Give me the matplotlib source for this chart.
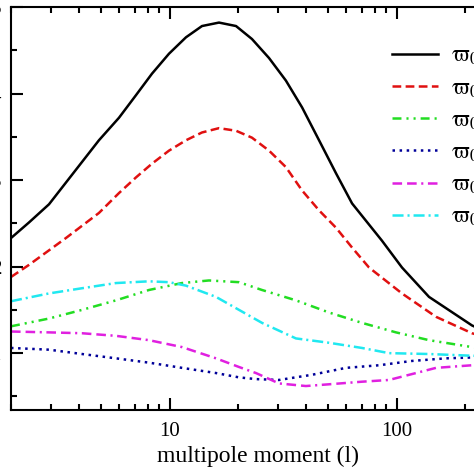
import matplotlib
matplotlib.use('Agg')
import matplotlib.pyplot as plt
from matplotlib.ticker import LogLocator, NullFormatter, MultipleLocator

plt.rcParams['font.family'] = ['Liberation Serif', 'DejaVu Serif']
plt.rcParams['mathtext.fontset'] = 'stix'

# ---- data ----
black_l = [2.0, 2.40, 2.94, 4.88, 5.98, 7.10, 8.36, 9.93, 11.8, 13.88, 16.49, 19.6, 23.04, 27.4,
           32.5, 38.3, 45.5, 54.0, 63.6, 86.1, 105.5, 138.8, 214.7, 300]
black_v = [2.33, 2.51, 2.72, 3.46, 3.72, 3.98, 4.23, 4.46, 4.65, 4.78, 4.82, 4.78, 4.63, 4.41,
           4.15, 3.84, 3.46, 3.08, 2.73, 2.30, 1.99, 1.65, 1.32, 1.15]

red_l = [2.0, 2.40, 3.49, 4.88, 5.98, 7.10, 8.36, 9.93, 11.8, 13.88, 16.49, 19.6, 23.04, 27.4,
         32.5, 38.3, 45.5, 54.0, 63.6, 75.5, 105.5, 149.0, 214.7, 300]
red_v = [1.88, 2.02, 2.33, 2.62, 2.85, 3.03, 3.19, 3.34, 3.46, 3.55, 3.60, 3.57, 3.49, 3.34,
         3.15, 2.88, 2.65, 2.45, 2.22, 1.99, 1.69, 1.42, 1.23, 1.12]

green_l = [2.0, 2.94, 4.11, 5.80, 8.11, 11.33, 14.9, 20.2, 25.5, 36.0, 50.3, 70.3, 99.3, 138.8, 214.7, 300]
green_v = [1.31, 1.40, 1.50, 1.61, 1.73, 1.81, 1.84, 1.82, 1.73, 1.61, 1.47, 1.35, 1.24, 1.15, 1.07, 1.03]

blue_l = [2.0, 2.94, 4.11, 5.80, 8.11, 11.33, 16.0, 20.2, 24.0, 30.3, 42.4, 59.8, 83.6, 116.8, 164.9, 214.7, 300]
blue_v = [1.06, 1.04, 0.99, 0.94, 0.89, 0.83, 0.77, 0.72, 0.70, 0.69, 0.75, 0.83, 0.86, 0.91, 0.94, 0.95, 0.96]

magenta_l = [2.0, 2.94, 4.11, 5.80, 8.11, 11.33, 16.0, 20.2, 24.0, 30.3, 39.8, 50.3, 70.3, 92.5,
             121.6, 149.0, 214.7, 300]
magenta_v = [1.25, 1.24, 1.23, 1.20, 1.15, 1.07, 0.94, 0.84, 0.77, 0.65, 0.62, 0.64, 0.67, 0.69,
             0.77, 0.83, 0.86, 0.87]

cyan_l = [2.0, 2.94, 4.11, 5.80, 8.11, 9.93, 11.8, 16.0, 20.2, 25.5, 36.0, 50.3, 70.3, 92.5, 138.8, 214.7, 300]
cyan_v = [1.60, 1.69, 1.75, 1.81, 1.83, 1.82, 1.78, 1.65, 1.50, 1.35, 1.17, 1.12, 1.06, 1.00, 0.99, 0.97, 0.96]

labels = [r'$\mathrm{\varpi}_0$ = 0.0', r'$\mathrm{\varpi}_0$ = 0.2', r'$\mathrm{\varpi}_0$ = 0.4',
          r'$\mathrm{\varpi}_0$ = 0.6', r'$\mathrm{\varpi}_0$ = 0.8', r'$\mathrm{\varpi}_0$ = 1.0']

x_ticks = [10, 100]
x_ticklabels = ['10', '100']
y_ticks = [1, 2, 3, 4, 5]
y_ticklabels = ['1', '2', '3', '4', '5']
xlabel = 'multipole moment (l)'

# ---- figure ----
W = 474.0
fig = plt.figure(figsize=(4.74, 4.74), dpi=100)
ax = fig.add_axes([11 / W, 64 / W, 494 / W, 403 / W])

lw = 1.8
k = 1.5 / lw  # keep dash lengths in absolute size
ax.plot(black_l, black_v, color='black', lw=lw, label=labels[0])
ax.plot(red_l, red_v, color='#e01010', lw=lw,
        dashes=tuple(d * k for d in (4.2, 2.1)), label=labels[1])
ax.plot(green_l, green_v, color='#22dd22', lw=lw,
        dashes=tuple(d * k for d in (4.3, 2.4, 1.0, 2.4, 1.0, 2.4)), label=labels[2])
ax.plot(blue_l, blue_v, color='#000099', lw=lw,
        dashes=tuple(d * k for d in (1.2, 2.2)), label=labels[3])
ax.plot(magenta_l, magenta_v, color='#e020e0', lw=lw,
        dashes=tuple(d * k for d in (4.6, 2.4, 4.6, 2.2, 1.0, 2.2)), label=labels[4])
ax.plot(cyan_l, cyan_v, color='#20e8f0', lw=lw,
        dashes=tuple(d * k for d in (5.3, 1.9, 1.0, 1.9)), label=labels[5])

ax.set_xscale('log')
ax.set_xlim(2, 300)
ax.set_ylim(0.343, 5.0)

ax.set_xticks(x_ticks)
ax.set_xticklabels(x_ticklabels)
ax.xaxis.set_minor_locator(LogLocator(base=10, subs=[2, 3, 4, 5, 6, 7, 8, 9]))
ax.xaxis.set_minor_formatter(NullFormatter())
ax.set_yticks(y_ticks)
ax.set_yticklabels(y_ticklabels)
ax.yaxis.set_minor_locator(MultipleLocator(0.5))

ax.tick_params(which='both', direction='in', top=True, right=True, width=1.5, labelsize=15)
ax.tick_params(which='major', length=8.6)
ax.tick_params(which='minor', length=4.3)
ax.tick_params(axis='x', pad=9)
ax.tick_params(axis='y', pad=7.2)
for s in ax.spines.values():
    s.set_linewidth(1.5)

ax.set_xlabel(xlabel, fontsize=17, labelpad=3)

leg = ax.legend(loc='upper left', bbox_to_anchor=(392 / W, 1 - 45 / W),
                bbox_transform=fig.transFigure, frameon=False, fontsize=17,
                handlelength=1.95, handletextpad=0.55, labelspacing=0.42,
                borderpad=0, borderaxespad=0)

fig.savefig('out.png', dpi=100)
